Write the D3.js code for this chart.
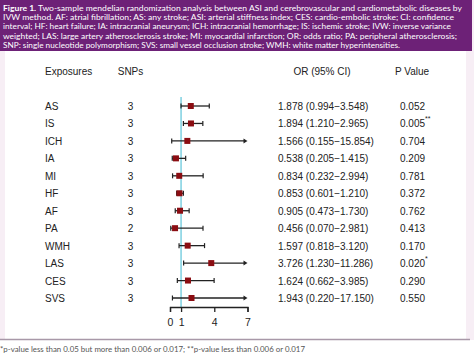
<!DOCTYPE html>
<html><head><meta charset="utf-8">
<script src="https://cdn.jsdelivr.net/npm/d3@7"></script>
<style>
html,body{margin:0;padding:0;background:#fff;}
svg{display:block;}
</style></head>
<body>
<svg id="c" width="474" height="355"></svg>
<script>
const exposures = ["AS","IS","ICH","IA","MI","HF","AF","PA","WMH","LAS","CES","SVS"];
const snps = [3,3,3,3,3,3,3,2,3,3,3,3];
const orVals = [1.878,1.894,1.566,0.538,0.834,0.853,0.905,0.456,1.597,3.726,1.624,1.943];
const lower = [0.994,1.210,0.155,0.205,0.232,0.601,0.473,0.070,0.818,1.230,0.662,0.220];
const upper = [3.548,2.965,15.854,1.415,2.994,1.210,1.730,2.981,3.120,11.286,3.985,17.150];
const pVals = ["0.052","0.005","0.704","0.209","0.781","0.372","0.762","0.413","0.170","0.020","0.290","0.550"];
const pMarks = ["","**","","","","","","","","*","",""];
const xTicks = [0,1,4,7];
const captionLines = [
  "Two-sample mendelian randomization analysis between ASI and cerebrovascular and cardiometabolic diseases by",
  "IVW method. AF: atrial fibrillation; AS: any stroke; ASI: arterial stiffness index; CES: cardio-embolic stroke; CI: confidence",
  "interval; HF: heart failure; IA: intracranial aneurysm; ICH: intracranial hemorrhage; IS: ischemic stroke; IVW: inverse variance",
  "weighted; LAS: large artery atherosclerosis stroke; MI: myocardial infarction; OR: odds ratio; PA: peripheral atherosclerosis;",
  "SNP: single nucleotide polymorphism; SVS: small vessel occlusion stroke; WMH: white matter hyperintensities."
];
const footnote = "*p-value less than 0.05 but more than 0.006 or 0.017; **p-value less than 0.006 or 0.017";

const svg = d3.select("#c");
const font = "'Liberation Sans', Arial, sans-serif";
const capFont = "Lato, 'Open Sans', sans-serif";

// background panel
svg.append("rect").attr("x",0).attr("y",0).attr("width",474).attr("height",340).attr("fill","#f7eef5");
svg.append("rect").attr("x",5).attr("y",51).attr("width",461).attr("height",288).attr("fill","#ffffff");
svg.append("rect").attr("x",0).attr("y",0).attr("width",472).attr("height",51).attr("fill","#6d2177");
svg.append("line").attr("x1",0).attr("x2",470).attr("y1",339.5).attr("y2",339.5).attr("stroke","#a898a8").attr("stroke-width",1.5);

// caption
const capEnds = [462,454,451,457,400];
captionLines.forEach((t,i)=>{
  const tx = svg.append("text").attr("x",3).attr("y",10.5+i*9.4).attr("fill","#fff")
    .attr("font-family",capFont).attr("font-size",8.2);
  if(i===0){
    tx.append("tspan").attr("font-weight","bold").text("Figure 1.");
    tx.append("tspan").text("  "+t);
  } else tx.text(t);
  tx.attr("textLength",capEnds[i]-3).attr("lengthAdjust","spacingAndGlyphs");
});

// footnote
svg.append("text").attr("x",0).attr("y",352).attr("fill","#555").attr("font-family",capFont)
  .attr("font-size",7.4).attr("textLength",305).attr("lengthAdjust","spacingAndGlyphs").text(footnote);

// scales
const x = d3.scaleLinear().domain([0,7]).range([170,247.5]);
const y = d3.scalePoint().domain(exposures).range([106,298]);
const xmax = x.domain()[1];

// headers
const hdr = svg.append("g").attr("font-family",font).attr("font-size",10).attr("fill","#222");
hdr.append("text").attr("x",45).attr("y",75).text("Exposures");
hdr.append("text").attr("x",130.5).attr("y",75).attr("text-anchor","middle").text("SNPs");
hdr.append("text").attr("x",322).attr("y",75).attr("text-anchor","middle").text("OR (95% CI)");
hdr.append("text").attr("x",412).attr("y",75).attr("text-anchor","middle").text("P Value");

// reference line
svg.append("line").attr("x1",x(1)).attr("x2",x(1)).attr("y1",97).attr("y2",307)
  .attr("stroke","#86d3e3").attr("stroke-width",1.6);

// rows
const rows = svg.append("g").selectAll("g").data(exposures).join("g")
  .attr("transform",d=>`translate(0,${y(d)})`);
rows.append("text").attr("x",45).attr("y",4).attr("font-family",font).attr("font-size",10).attr("fill","#222").text(d=>d);
rows.append("text").attr("x",130.5).attr("y",4).attr("text-anchor","middle").attr("font-family",font).attr("font-size",10).attr("fill","#222").text((d,i)=>snps[i]);
rows.append("text").attr("x",278).attr("y",4).attr("font-family",font).attr("font-size",10).attr("fill","#222")
  .text((d,i)=>`${orVals[i].toFixed(3)} (${lower[i].toFixed(3)}\u2212${upper[i].toFixed(3)})`);
const pt = rows.append("text").attr("x",400).attr("y",4).attr("font-family",font).attr("font-size",10).attr("fill","#222");
pt.append("tspan").text((d,i)=>pVals[i]);
pt.append("tspan").attr("font-size",7).attr("dy",-6).text((d,i)=>pMarks[i]);

// whiskers
rows.append("line").attr("x1",(d,i)=>x(Math.max(0,lower[i]))).attr("x2",(d,i)=>x(Math.min(xmax,upper[i])) - (upper[i]>xmax?3:0))
  .attr("y1",0).attr("y2",0).attr("stroke","#222").attr("stroke-width",1.3);
rows.append("line").attr("x1",(d,i)=>x(lower[i])).attr("x2",(d,i)=>x(lower[i])).attr("y1",-2.5).attr("y2",2.5).attr("stroke","#222").attr("stroke-width",1.2);
rows.filter((d,i)=>upper[i]<=xmax).append("line").attr("x1",(d)=>x(upper[exposures.indexOf(d)])).attr("x2",(d)=>x(upper[exposures.indexOf(d)]))
  .attr("y1",-2.5).attr("y2",2.5).attr("stroke","#222").attr("stroke-width",1.2);
rows.filter((d,i)=>upper[i]>xmax).append("path")
  .attr("d",`M${x(xmax)-4},-2.5L${x(xmax)},0L${x(xmax)-4},2.5Z`).attr("fill","#222");
rows.append("rect").attr("x",(d,i)=>x(orVals[i])-3).attr("y",-3).attr("width",6).attr("height",6).attr("fill","#8b0d12");

// axis
const ax = svg.append("g").attr("transform","translate(0,307)")
  .call(d3.axisBottom(x).tickValues(xTicks).tickSize(5).tickSizeOuter(5).tickFormat(d3.format("d")));
ax.select(".domain").attr("stroke","#222").attr("stroke-width",1.3);
ax.selectAll(".tick line").attr("stroke","#222").attr("stroke-width",1.3);
ax.selectAll(".tick text").attr("font-family",font).attr("font-size",10.5).attr("fill","#222").attr("dy","1em");
</script>
</body></html>
